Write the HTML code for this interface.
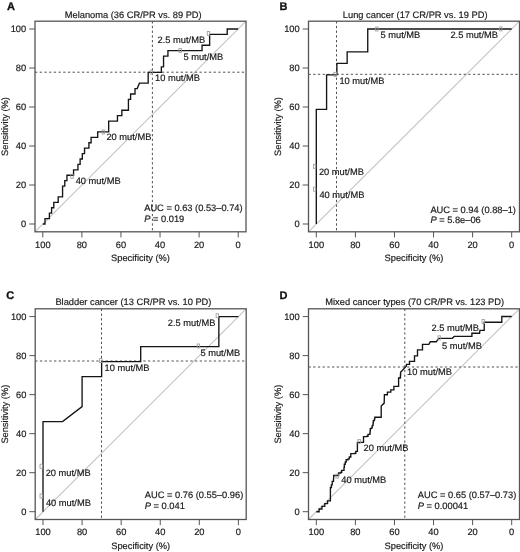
<!DOCTYPE html>
<html><head><meta charset="utf-8"><title>ROC curves</title>
<style>html,body{margin:0;padding:0;background:#fff;overflow:hidden;}svg{display:block;filter:blur(0.3px);}
text{text-rendering:geometricPrecision;font-family:"Liberation Sans", Arial, Helvetica, sans-serif;font-size:9.3px;fill:#1a1a1a;stroke:#1a1a1a;stroke-width:0.18px;}
text.lt{font-weight:bold;font-size:11px;fill:#111;stroke:#111;stroke-width:0.3px;}</style></head><body>
<svg width="520" height="552" viewBox="0 0 520 552">
<rect width="520" height="552" fill="#fff"/><g>
<line x1="35" y1="231.8" x2="246" y2="21.2" stroke="#c3c3c3" stroke-width="1.1"/>
<line x1="152.4" y1="21.2" x2="152.4" y2="231.8" stroke="#505050" stroke-width="1.0" stroke-dasharray="2.3 2.4"/>
<line x1="35" y1="72.2" x2="246" y2="72.2" stroke="#505050" stroke-width="1.0" stroke-dasharray="2.3 2.4"/>
<rect x="35" y="21.2" width="211" height="210.6" fill="none" stroke="#555555" stroke-width="1.3"/>
<line x1="238.19" y1="231.8" x2="238.19" y2="237.4" stroke="#555" stroke-width="1.0"/>
<line x1="29.2" y1="224" x2="35" y2="224" stroke="#555" stroke-width="1.0"/>
<text x="238.19" y="247.7" text-anchor="middle">0</text>
<text x="26.2" y="227.3" text-anchor="end">0</text>
<line x1="199.11" y1="231.8" x2="199.11" y2="237.4" stroke="#555" stroke-width="1.0"/>
<line x1="29.2" y1="185" x2="35" y2="185" stroke="#555" stroke-width="1.0"/>
<text x="199.11" y="247.7" text-anchor="middle">20</text>
<text x="26.2" y="188.3" text-anchor="end">20</text>
<line x1="160.04" y1="231.8" x2="160.04" y2="237.4" stroke="#555" stroke-width="1.0"/>
<line x1="29.2" y1="146" x2="35" y2="146" stroke="#555" stroke-width="1.0"/>
<text x="160.04" y="247.7" text-anchor="middle">40</text>
<text x="26.2" y="149.3" text-anchor="end">40</text>
<line x1="120.96" y1="231.8" x2="120.96" y2="237.4" stroke="#555" stroke-width="1.0"/>
<line x1="29.2" y1="107" x2="35" y2="107" stroke="#555" stroke-width="1.0"/>
<text x="120.96" y="247.7" text-anchor="middle">60</text>
<text x="26.2" y="110.3" text-anchor="end">60</text>
<line x1="81.89" y1="231.8" x2="81.89" y2="237.4" stroke="#555" stroke-width="1.0"/>
<line x1="29.2" y1="68" x2="35" y2="68" stroke="#555" stroke-width="1.0"/>
<text x="81.89" y="247.7" text-anchor="middle">80</text>
<text x="26.2" y="71.3" text-anchor="end">80</text>
<line x1="42.81" y1="231.8" x2="42.81" y2="237.4" stroke="#555" stroke-width="1.0"/>
<line x1="29.2" y1="29" x2="35" y2="29" stroke="#555" stroke-width="1.0"/>
<text x="42.81" y="247.7" text-anchor="middle">100</text>
<text x="26.2" y="32.3" text-anchor="end">100</text>
<text x="140.5" y="261.4" text-anchor="middle">Specificity (%)</text>
<text transform="translate(7.6,126.5) rotate(-90)" text-anchor="middle">Sensitivity (%)</text>
<polyline points="42.81,224 45,224 45,218.58 49.4,218.58 49.4,213.16 51.59,213.16 51.59,207.76 53.79,207.76 53.79,202.34 58.19,202.34 58.19,196.91 62.57,196.91 62.57,186.09 64.77,186.09 64.77,180.67 66.96,180.67 66.96,175.25 73.55,175.25 73.55,169.83 77.94,169.83 77.94,164.41 80.13,164.41 80.13,159.01 82.32,159.01 82.32,153.59 84.53,153.59 84.53,148.16 88.92,148.16 88.92,142.74 91.11,142.74 91.11,137.34 97.69,137.34 97.69,131.92 108.67,131.92 108.67,121.08 117.45,121.08 117.45,115.66 121.84,115.66 121.84,110.26 128.43,110.26 128.43,99.41 130.61,99.41 130.61,93.99 135.01,93.99 135.01,88.59 137.2,88.59 139.41,83.17 148.18,83.17 148.18,72.33 161.35,72.33 161.35,66.91 163.55,66.91 163.55,56.09 167.93,56.09 167.93,50.66 202.04,50.66 202.04,45.24 209.64,45.24 209.64,34.42 227.21,34.42 227.21,29 238.19,29" fill="none" stroke="#151515" stroke-width="1.35" stroke-linejoin="miter"/>
<rect x="70.8" y="174.3" width="2.4" height="4" fill="none" stroke="#9a9a9a" stroke-width="0.8"/>
<rect x="102.1" y="130" width="2.4" height="4" fill="none" stroke="#9a9a9a" stroke-width="0.8"/>
<rect x="150.2" y="70.1" width="2.4" height="4" fill="none" stroke="#9a9a9a" stroke-width="0.8"/>
<rect x="179" y="48.4" width="2.4" height="4" fill="none" stroke="#9a9a9a" stroke-width="0.8"/>
<rect x="207.3" y="31.5" width="2.4" height="4" fill="none" stroke="#9a9a9a" stroke-width="0.8"/>
<text x="157.6" y="43.4">2.5 mut/MB</text>
<text x="183.4" y="59.5">5 mut/MB</text>
<text x="155" y="80.7">10 mut/MB</text>
<text x="106.4" y="140.1">20 mut/MB</text>
<text x="75.7" y="183.6">40 mut/MB</text>
<text x="144.2" y="211">AUC = 0.63 (0.53–0.74)</text>
<text x="144.2" y="221.8"><tspan font-style="italic">P</tspan> = 0.019</text>
<text x="133.2" y="17.8" text-anchor="middle">Melanoma (36 CR/PR vs. 89 PD)</text>
<text x="6.9" y="9.8" class="lt">A</text>
</g>
<g>
<line x1="308.5" y1="231.8" x2="519.5" y2="21.2" stroke="#c3c3c3" stroke-width="1.1"/>
<line x1="336.5" y1="21.2" x2="336.5" y2="231.8" stroke="#505050" stroke-width="1.0" stroke-dasharray="2.3 2.4"/>
<line x1="308.5" y1="74.3" x2="519.5" y2="74.3" stroke="#505050" stroke-width="1.0" stroke-dasharray="2.3 2.4"/>
<rect x="308.5" y="21.2" width="211" height="210.6" fill="none" stroke="#555555" stroke-width="1.3"/>
<line x1="511.69" y1="231.8" x2="511.69" y2="237.4" stroke="#555" stroke-width="1.0"/>
<line x1="302.7" y1="224" x2="308.5" y2="224" stroke="#555" stroke-width="1.0"/>
<text x="511.69" y="247.7" text-anchor="middle">0</text>
<text x="299.7" y="227.3" text-anchor="end">0</text>
<line x1="472.61" y1="231.8" x2="472.61" y2="237.4" stroke="#555" stroke-width="1.0"/>
<line x1="302.7" y1="185" x2="308.5" y2="185" stroke="#555" stroke-width="1.0"/>
<text x="472.61" y="247.7" text-anchor="middle">20</text>
<text x="299.7" y="188.3" text-anchor="end">20</text>
<line x1="433.54" y1="231.8" x2="433.54" y2="237.4" stroke="#555" stroke-width="1.0"/>
<line x1="302.7" y1="146" x2="308.5" y2="146" stroke="#555" stroke-width="1.0"/>
<text x="433.54" y="247.7" text-anchor="middle">40</text>
<text x="299.7" y="149.3" text-anchor="end">40</text>
<line x1="394.46" y1="231.8" x2="394.46" y2="237.4" stroke="#555" stroke-width="1.0"/>
<line x1="302.7" y1="107" x2="308.5" y2="107" stroke="#555" stroke-width="1.0"/>
<text x="394.46" y="247.7" text-anchor="middle">60</text>
<text x="299.7" y="110.3" text-anchor="end">60</text>
<line x1="355.39" y1="231.8" x2="355.39" y2="237.4" stroke="#555" stroke-width="1.0"/>
<line x1="302.7" y1="68" x2="308.5" y2="68" stroke="#555" stroke-width="1.0"/>
<text x="355.39" y="247.7" text-anchor="middle">80</text>
<text x="299.7" y="71.3" text-anchor="end">80</text>
<line x1="316.31" y1="231.8" x2="316.31" y2="237.4" stroke="#555" stroke-width="1.0"/>
<line x1="302.7" y1="29" x2="308.5" y2="29" stroke="#555" stroke-width="1.0"/>
<text x="316.31" y="247.7" text-anchor="middle">100</text>
<text x="299.7" y="32.3" text-anchor="end">100</text>
<text x="414" y="261.4" text-anchor="middle">Specificity (%)</text>
<text transform="translate(281.1,126.5) rotate(-90)" text-anchor="middle">Sensitivity (%)</text>
<polyline points="316.31,224 316.31,109.3 326.59,109.3 326.59,74.88 336.89,74.88 336.89,63.42 347.16,63.42 347.16,51.93 367.74,51.93 367.74,29 511.69,29" fill="none" stroke="#151515" stroke-width="1.35" stroke-linejoin="miter"/>
<rect x="313.4" y="164.3" width="2.4" height="4" fill="none" stroke="#9a9a9a" stroke-width="0.8"/>
<rect x="313.4" y="187.2" width="2.4" height="4" fill="none" stroke="#9a9a9a" stroke-width="0.8"/>
<rect x="334" y="72.3" width="2.4" height="4" fill="none" stroke="#9a9a9a" stroke-width="0.8"/>
<rect x="375.6" y="27" width="2.4" height="4" fill="none" stroke="#9a9a9a" stroke-width="0.8"/>
<rect x="499.6" y="26.9" width="2.4" height="4" fill="none" stroke="#9a9a9a" stroke-width="0.8"/>
<text x="450.4" y="38">2.5 mut/MB</text>
<text x="380.5" y="37.6">5 mut/MB</text>
<text x="339.4" y="83.5">10 mut/MB</text>
<text x="318.9" y="175.1">20 mut/MB</text>
<text x="319.4" y="198.3">40 mut/MB</text>
<text x="430.4" y="212.7">AUC = 0.94 (0.88–1)</text>
<text x="430.4" y="223.1"><tspan font-style="italic">P</tspan> = 5.8e–06</text>
<text x="415.2" y="17.8" text-anchor="middle">Lung cancer (17 CR/PR vs. 19 PD)</text>
<text x="279.4" y="9.8" class="lt">B</text>
</g>
<g>
<line x1="35.2" y1="519.5" x2="246.2" y2="308.8" stroke="#c3c3c3" stroke-width="1.1"/>
<line x1="101.5" y1="308.8" x2="101.5" y2="519.5" stroke="#505050" stroke-width="1.0" stroke-dasharray="2.3 2.4"/>
<line x1="35.2" y1="361" x2="246.2" y2="361" stroke="#505050" stroke-width="1.0" stroke-dasharray="2.3 2.4"/>
<rect x="35.2" y="308.8" width="211" height="210.7" fill="none" stroke="#555555" stroke-width="1.3"/>
<line x1="238.39" y1="519.5" x2="238.39" y2="525.1" stroke="#555" stroke-width="1.0"/>
<line x1="29.4" y1="511.7" x2="35.2" y2="511.7" stroke="#555" stroke-width="1.0"/>
<text x="238.39" y="535.4" text-anchor="middle">0</text>
<text x="26.4" y="515" text-anchor="end">0</text>
<line x1="199.31" y1="519.5" x2="199.31" y2="525.1" stroke="#555" stroke-width="1.0"/>
<line x1="29.4" y1="472.68" x2="35.2" y2="472.68" stroke="#555" stroke-width="1.0"/>
<text x="199.31" y="535.4" text-anchor="middle">20</text>
<text x="26.4" y="475.98" text-anchor="end">20</text>
<line x1="160.24" y1="519.5" x2="160.24" y2="525.1" stroke="#555" stroke-width="1.0"/>
<line x1="29.4" y1="433.66" x2="35.2" y2="433.66" stroke="#555" stroke-width="1.0"/>
<text x="160.24" y="535.4" text-anchor="middle">40</text>
<text x="26.4" y="436.96" text-anchor="end">40</text>
<line x1="121.16" y1="519.5" x2="121.16" y2="525.1" stroke="#555" stroke-width="1.0"/>
<line x1="29.4" y1="394.64" x2="35.2" y2="394.64" stroke="#555" stroke-width="1.0"/>
<text x="121.16" y="535.4" text-anchor="middle">60</text>
<text x="26.4" y="397.94" text-anchor="end">60</text>
<line x1="82.09" y1="519.5" x2="82.09" y2="525.1" stroke="#555" stroke-width="1.0"/>
<line x1="29.4" y1="355.62" x2="35.2" y2="355.62" stroke="#555" stroke-width="1.0"/>
<text x="82.09" y="535.4" text-anchor="middle">80</text>
<text x="26.4" y="358.92" text-anchor="end">80</text>
<line x1="43.01" y1="519.5" x2="43.01" y2="525.1" stroke="#555" stroke-width="1.0"/>
<line x1="29.4" y1="316.6" x2="35.2" y2="316.6" stroke="#555" stroke-width="1.0"/>
<text x="43.01" y="535.4" text-anchor="middle">100</text>
<text x="26.4" y="319.9" text-anchor="end">100</text>
<text x="140.7" y="549.1" text-anchor="middle">Specificity (%)</text>
<text transform="translate(7.8,414.15) rotate(-90)" text-anchor="middle">Sensitivity (%)</text>
<polyline points="43.01,511.7 43.01,421.66 62.55,421.66 82.09,406.64 82.09,376.63 101.63,376.63 101.63,361.63 140.7,361.63 140.7,346.61 218.85,346.61 218.85,316.6 238.39,316.6" fill="none" stroke="#151515" stroke-width="1.35" stroke-linejoin="miter"/>
<rect x="40" y="464.2" width="2.4" height="4" fill="none" stroke="#9a9a9a" stroke-width="0.8"/>
<rect x="40" y="494" width="2.4" height="4" fill="none" stroke="#9a9a9a" stroke-width="0.8"/>
<rect x="99.6" y="358.6" width="2.4" height="4" fill="none" stroke="#9a9a9a" stroke-width="0.8"/>
<rect x="197.2" y="344" width="2.4" height="4" fill="none" stroke="#9a9a9a" stroke-width="0.8"/>
<rect x="216.1" y="313.7" width="2.4" height="4" fill="none" stroke="#9a9a9a" stroke-width="0.8"/>
<text x="167.8" y="325.9">2.5 mut/MB</text>
<text x="200.4" y="355.8">5 mut/MB</text>
<text x="104.6" y="370.8">10 mut/MB</text>
<text x="45.7" y="475.6">20 mut/MB</text>
<text x="45.9" y="505.9">40 mut/MB</text>
<text x="144.8" y="498.1">AUC = 0.76 (0.55–0.96)</text>
<text x="144.8" y="508.5"><tspan font-style="italic">P</tspan> = 0.041</text>
<text x="133.4" y="304.8" text-anchor="middle">Bladder cancer (13 CR/PR vs. 10 PD)</text>
<text x="6.2" y="299.4" class="lt">C</text>
</g>
<g>
<line x1="308.5" y1="519.5" x2="519.5" y2="308.8" stroke="#c3c3c3" stroke-width="1.1"/>
<line x1="404.8" y1="308.8" x2="404.8" y2="519.5" stroke="#505050" stroke-width="1.0" stroke-dasharray="2.3 2.4"/>
<line x1="308.5" y1="367" x2="519.5" y2="367" stroke="#505050" stroke-width="1.0" stroke-dasharray="2.3 2.4"/>
<rect x="308.5" y="308.8" width="211" height="210.7" fill="none" stroke="#555555" stroke-width="1.3"/>
<line x1="511.69" y1="519.5" x2="511.69" y2="525.1" stroke="#555" stroke-width="1.0"/>
<line x1="302.7" y1="511.7" x2="308.5" y2="511.7" stroke="#555" stroke-width="1.0"/>
<text x="511.69" y="535.4" text-anchor="middle">0</text>
<text x="299.7" y="515" text-anchor="end">0</text>
<line x1="472.61" y1="519.5" x2="472.61" y2="525.1" stroke="#555" stroke-width="1.0"/>
<line x1="302.7" y1="472.68" x2="308.5" y2="472.68" stroke="#555" stroke-width="1.0"/>
<text x="472.61" y="535.4" text-anchor="middle">20</text>
<text x="299.7" y="475.98" text-anchor="end">20</text>
<line x1="433.54" y1="519.5" x2="433.54" y2="525.1" stroke="#555" stroke-width="1.0"/>
<line x1="302.7" y1="433.66" x2="308.5" y2="433.66" stroke="#555" stroke-width="1.0"/>
<text x="433.54" y="535.4" text-anchor="middle">40</text>
<text x="299.7" y="436.96" text-anchor="end">40</text>
<line x1="394.46" y1="519.5" x2="394.46" y2="525.1" stroke="#555" stroke-width="1.0"/>
<line x1="302.7" y1="394.64" x2="308.5" y2="394.64" stroke="#555" stroke-width="1.0"/>
<text x="394.46" y="535.4" text-anchor="middle">60</text>
<text x="299.7" y="397.94" text-anchor="end">60</text>
<line x1="355.39" y1="519.5" x2="355.39" y2="525.1" stroke="#555" stroke-width="1.0"/>
<line x1="302.7" y1="355.62" x2="308.5" y2="355.62" stroke="#555" stroke-width="1.0"/>
<text x="355.39" y="535.4" text-anchor="middle">80</text>
<text x="299.7" y="358.92" text-anchor="end">80</text>
<line x1="316.31" y1="519.5" x2="316.31" y2="525.1" stroke="#555" stroke-width="1.0"/>
<line x1="302.7" y1="316.6" x2="308.5" y2="316.6" stroke="#555" stroke-width="1.0"/>
<text x="316.31" y="535.4" text-anchor="middle">100</text>
<text x="299.7" y="319.9" text-anchor="end">100</text>
<text x="414" y="549.1" text-anchor="middle">Specificity (%)</text>
<text transform="translate(281.1,414.15) rotate(-90)" text-anchor="middle">Sensitivity (%)</text>
<polyline points="316.3,511.7 319.12,511.7 319.12,509 321.94,509 321.94,506.3 324.76,506.3 324.76,503.6 327.58,503.6 327.58,500.9 330.4,500.9 330.4,498.2 330.4,487.5 331.4,487.5 331.4,484.8 332.2,484.8 332.2,481.3 333.5,481.3 333.5,480.6 333.7,475.5 337.9,475.5 338.6,475.5 338.6,473 340.9,473 340.9,472.2 341.7,472.2 341.7,470.3 344,470.3 344,467.3 344.3,467.3 344.3,464.2 345.25,464.2 345.25,461.95 346.2,461.95 346.2,459.7 348.1,459.7 348.1,458.9 349.3,458.9 349.3,457 350.8,457 350.8,453.6 355,453.6 355,453.2 355.8,453.2 355.8,451.4 357.4,451.4 357.4,449.9 357.4,442.3 363.5,442.3 363.5,436.6 366.8,436.6 366.8,436.2 368,436.2 368,434.3 369.9,434.3 369.9,433.2 370.1,433.2 370.1,430.9 370.3,430.9 370.3,428.6 371.4,428.6 371.4,427.9 372.2,427.9 372.2,425.6 372.9,425.6 372.9,424.8 373.1,424.8 373.1,422.7 373.3,422.7 373.3,420.6 374.4,420.6 374.4,419.1 374.8,419.1 374.8,417.2 381.2,417.2 381.2,406.1 384.2,403.1 384.4,394.7 387.4,394.7 387.4,392.1 390.1,392.1 390.8,392.1 390.8,389.8 393.9,389.8 393.9,386.3 398.6,386.3 398.6,378 400.3,378 400.3,377.2 400.45,377.2 400.45,374.75 400.6,374.75 400.6,372.3 406.4,366 406.4,364.3 409.5,364.3 409.5,361.3 414.5,361.3 414.5,355.8 417.5,355.8 417.5,349.9 422.5,349.9 422.5,344.4 428.9,344.4 430.3,341.7 436.3,341.7 438.8,338.3 452.3,338.3 454.2,336.4 471.5,336.4 471.9,336.4 471.9,333.2 479.6,333.2 479.9,330.3 484.2,330.3 484.2,322.2 501.8,322.2 501.8,316.5 511.7,316.5" fill="none" stroke="#151515" stroke-width="1.35" stroke-linejoin="miter"/>
<rect x="335.9" y="474.2" width="2.4" height="4" fill="none" stroke="#9a9a9a" stroke-width="0.8"/>
<rect x="358" y="439.4" width="2.4" height="4" fill="none" stroke="#9a9a9a" stroke-width="0.8"/>
<rect x="438" y="335.8" width="2.4" height="4" fill="none" stroke="#9a9a9a" stroke-width="0.8"/>
<rect x="482" y="319.4" width="2.4" height="4" fill="none" stroke="#9a9a9a" stroke-width="0.8"/>
<text x="431.5" y="330.9">2.5 mut/MB</text>
<text x="442.1" y="348.8">5 mut/MB</text>
<text x="407.1" y="375.3">10 mut/MB</text>
<text x="363.5" y="450.5">20 mut/MB</text>
<text x="341.3" y="483.4">40 mut/MB</text>
<text x="417.8" y="497.9">AUC = 0.65 (0.57–0.73)</text>
<text x="417.8" y="508.5"><tspan font-style="italic">P</tspan> = 0.00041</text>
<text x="414.7" y="304.8" text-anchor="middle">Mixed cancer types (70 CR/PR vs. 123 PD)</text>
<text x="279.4" y="299.2" class="lt">D</text>
</g>
</svg></body></html>
